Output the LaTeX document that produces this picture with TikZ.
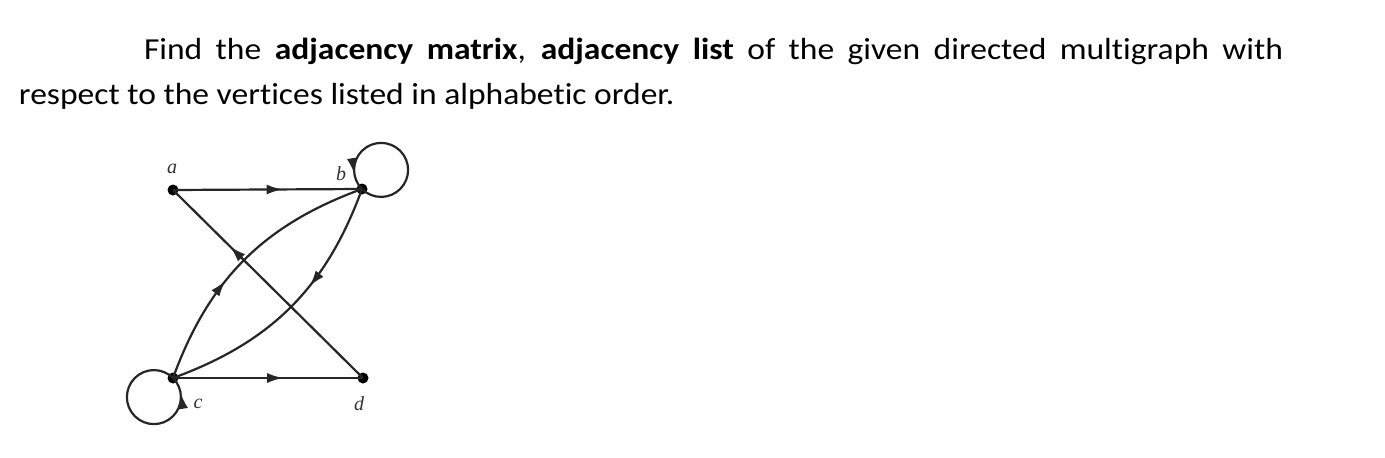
\documentclass[tikz,border=0pt]{standalone}
\usepackage{fontspec}
\setmainfont{Carlito}[Ligatures=CommonOff,FakeStretch=1.1]
\newfontfamily\labelfont{Liberation Serif}
\usetikzlibrary{decorations.markings,arrows.meta}
\tikzset{
  x=1pt,y=-1pt,
  txt/.style={inner sep=0pt,outer sep=0pt,anchor=base west,font=\fontsize{30.5}{36}\selectfont},
  vertex/.style={circle,fill=black,inner sep=0pt,minimum size=11pt},
  vlabel/.style={inner sep=0pt,font=\labelfont\itshape\fontsize{20}{24}\selectfont,text=black!80},
  edge/.style={line width=2.2pt,draw=black!85},
  markat/.style={postaction={decorate},decoration={markings,mark=at position #1 with {\arrow{Latex[length=16pt,width=10pt]}}}}
}
\begin{document}
\begin{tikzpicture}
\useasboundingbox (0,0) rectangle (1385,458);
\fill[white] (0,0) rectangle (1385,458);
\node[txt] (l1) at (144,59.3) {\makebox[1139pt][s]{Find the \textbf{adjacency matrix}, \textbf{adjacency list} of the given directed multigraph with}};
\node[txt] (l2) at (19,104.3) {respect to the vertices listed in alphabetic order.};

\node[vertex] (a) at (173,190) {};
\node[vertex] (b) at (362,189) {};
\node[vertex] (c) at (173,378) {};
\node[vertex] (d) at (363,378) {};
\node[vlabel] (la) at (172,169) {\textit{a}};
\node[vlabel] (lb) at (341,174) {\textit{b}};
\node[vlabel] (lc) at (198,404) {\textit{c}};
\node[vlabel] (ld) at (359,404) {\textit{d}};

\draw[edge,markat=0.58] (a.center) -- (b.center);
\draw[edge,markat=0.58] (c.center) -- (d.center);
\draw[edge,markat=0.7] (d.center) -- (a.center);
\draw[edge,markat=0.4] (c.center) to[bend left=25] (b.center);
\draw[edge,markat=0.4] (b.center) to[bend left=25] (c.center);
\draw[edge,markat=0.9] (b.center) arc[start angle=135,end angle=-225,radius=27];
\draw[edge,markat=0.9] (c.center) arc[start angle=-45,end angle=-405,radius=27];
\end{tikzpicture}
\end{document}
